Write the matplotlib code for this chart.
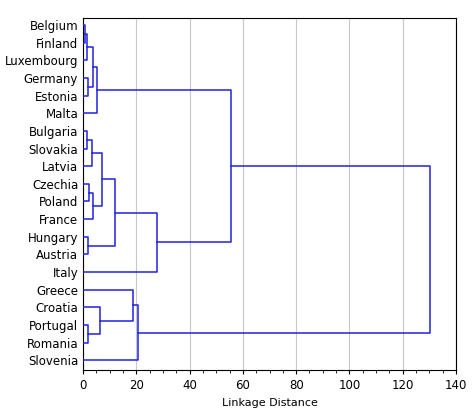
import matplotlib
matplotlib.use("Agg")
import matplotlib.pyplot as plt

# leaf labels, top to bottom
countries = ["Belgium", "Finland", "Luxembourg", "Germany", "Estonia", "Malta",
             "Bulgaria", "Slovakia", "Latvia", "Czechia", "Poland", "France",
             "Hungary", "Austria", "Italy", "Greece", "Croatia", "Portugal",
             "Romania", "Slovenia"]

# merges: (cluster a, cluster b, linkage distance); new clusters numbered from len(countries)
merge_a = [0, 20, 3, 21, 23, 6, 25, 9, 27, 26, 12, 29, 31, 24, 17, 16, 15, 36, 33]
merge_b = [1, 2, 4, 22, 5, 7, 8, 10, 11, 28, 13, 30, 14, 32, 18, 34, 35, 19, 37]
merge_h = [0.9, 1.6, 1.9, 3.9, 5.3, 1.6, 3.5, 2.1, 3.6, 7.1, 2.0, 11.9, 27.7, 55.4,
           2.0, 6.5, 18.6, 20.6, 130.3]

fig = plt.figure(figsize=(4.74, 4.19), dpi=100)
ax = fig.add_axes([83 / 474, 49 / 419, 373 / 474, 352 / 419])

pos = {i: (0.0, float(i)) for i in range(len(countries))}
blue = "#2222dd"
for k, (a, b, h) in enumerate(zip(merge_a, merge_b, merge_h)):
    xa, ya = pos[a]
    xb, yb = pos[b]
    ax.plot([xa, h, h, xb], [ya, ya, yb, yb], color=blue, lw=1.1, zorder=3)
    pos[len(countries) + k] = (h, (ya + yb) / 2)

ax.set_xlim(0, 140)
ax.set_ylim(len(countries) - 0.45, -0.4)
ax.set_xticks(range(0, 141, 20))
ax.set_yticks(range(len(countries)))
ax.set_yticklabels(countries, fontsize=8.5)
ax.tick_params(axis="x", labelsize=8.5, direction="out", length=3)
ax.tick_params(axis="y", length=0)
ax.set_xticks(range(0, 141, 5), minor=True)
ax.tick_params(axis="x", which="minor", length=2)
ax.grid(axis="x", color="#c8c8c8", lw=0.8, zorder=0)
ax.set_xlabel("Linkage Distance", fontsize=8)
for s in ax.spines.values():
    s.set_color("black")
    s.set_linewidth(0.8)

fig.savefig("out.png", dpi=100)
